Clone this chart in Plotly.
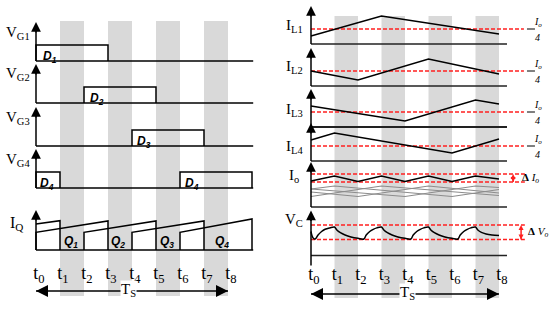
import plotly.graph_objects as go

W, H = 550, 310

# ---------------- data ----------------
t_ticks = [0, 1, 2, 3, 4, 5, 6, 7, 8]
t_labels = ["t<sub>0</sub>", "t<sub>1</sub>", "t<sub>2</sub>", "t<sub>3</sub>", "t<sub>4</sub>",
            "t<sub>5</sub>", "t<sub>6</sub>", "t<sub>7</sub>", "t<sub>8</sub>"]
shade_from = [1, 3, 5, 7]
shade_to = [2, 4, 6, 8]
period = [0, 8]
period_label = "T<sub>S</sub>"

# gate signals (left)
gate_labels = ["V<sub>G1</sub>", "V<sub>G2</sub>", "V<sub>G3</sub>", "V<sub>G4</sub>"]
gate_on = [[0], [2], [4], [0, 6]]
gate_off = [[3], [5], [7], [1, 9]]
gate_level = 16
duty_labels = ["D<sub>1</sub>", "D<sub>2</sub>", "D<sub>3</sub>", "D<sub>4</sub>"]
duty_label_t = [[0.6], [2.55], [4.5], [0.45, 6.5]]

# switch currents (left)
iq_label = "I<sub>Q</sub>"
q_on = [0, 2, 4, 6]
q_off = [3, 5, 7, 9]
q_low = [17.7, 17.7, 17.7, 17.7]
q_high = [29, 29, 29, 31]
q4_tail_t = [0, 1]
q4_tail_i = [26, 29.3]
q_labels = ["Q<sub>1</sub>", "Q<sub>2</sub>", "Q<sub>3</sub>", "Q<sub>4</sub>"]
q_label_t = [1.45, 3.4, 5.45, 7.75]

# inductor currents (right)
il_labels = ["I<sub>L1</sub>", "I<sub>L2</sub>", "I<sub>L3</sub>", "I<sub>L4</sub>"]
il_t = [[0, 3, 8], [0, 2, 5, 8], [0, 4, 7, 8], [0, 1, 6, 8]]
il_v = [[8, 28, 10], [15, 6, 27, 12], [21, 6, 27, 23], [21, 28, 8, 22]]
il_mean = 15

# output current
io_label = "I<sub>o</sub>"
io_t = [0, 1, 2, 3, 4, 5, 6, 7, 8]
io_v = [26, 31, 25.5, 31, 25.5, 31, 25.5, 31, 28]
io_band = [25, 33]
io_phase_v = [[10.5, 21, 11.5], [15, 10.5, 21, 14], [18, 10.5, 21, 19.5], [18, 21, 10.5, 17.5]]

# capacitor voltage
vc_label = "V<sub>C</sub>"
vc_t = [0.0, 0.04, 0.1, 0.18, 0.3, 0.45, 0.6, 0.8, 1.0,
        1.1, 1.25, 1.45, 1.7, 2.0, 2.25,
        2.35, 2.5, 2.65, 2.8, 3.0,
        3.1, 3.25, 3.45, 3.7, 4.0, 4.25,
        4.35, 4.5, 4.65, 4.8, 5.0,
        5.1, 5.25, 5.45, 5.7, 6.0, 6.25,
        6.35, 6.5, 6.65, 6.8, 7.0,
        7.1, 7.25, 7.45, 7.7, 8.0]
vc_v = [24, 20, 17.2, 16.5, 20.5, 24, 26.2, 27.6, 28.5,
        25.5, 22.8, 20.5, 18.6, 17.2, 16.5,
        20.5, 24, 26.2, 27.6, 28.5,
        25.5, 22.8, 20.5, 18.6, 17.2, 16.5,
        20.5, 24, 26.2, 27.6, 28.5,
        25.5, 22.8, 20.5, 18.6, 17.2, 16.5,
        20.5, 24, 26.2, 27.6, 28.5,
        25.5, 23.2, 21.6, 20.6, 20]
vc_band = [16, 30.5]

# ---------------- layout constants (pixels) ----------------
left_base = [61, 103, 146, 188, 250]
right_base = [44, 86, 127, 161, 207, 255.5]
L0, LD = 36, 24.0      # left: pixel of t0, pixels per t
R0, RD = 311, 23.5     # right
SERIF = "Liberation Serif"
SANS = "Liberation Sans"
BLACK = dict(color="black", width=1.5)
RED = dict(color="#ff2020", width=1.5, dash="4px,2px")
GREY = "#d9d9d9"


def yp(py):
    return 1 - py / H


fig = go.Figure()
annotations = []


def line(x, y, xa, ya, style=BLACK, **kw):
    fig.add_trace(go.Scatter(x=x, y=y, xaxis=xa, yaxis=ya, mode="lines", line=style,
                             hoverinfo="skip", showlegend=False, **kw))


def axis_arrow(xa, ya, top, bottom=0):
    line([0, 0], [bottom, top - 4], xa, ya)
    annotations.append(dict(x=0, y=top, xref=xa, yref=ya, ax=0, ay=top - 12, axref=xa, ayref=ya,
                            text="", showarrow=True, arrowhead=2, arrowsize=1.3, arrowwidth=1.5,
                            arrowcolor="black", standoff=0, startstandoff=0))


def label(text, px, py, size=15, family=SERIF, anchor="left"):
    annotations.append(dict(text=text, x=px / W, y=yp(py), xref="paper", yref="paper",
                            showarrow=False, xanchor=anchor, yanchor="middle",
                            font=dict(family=family, size=size, color="black")))


# ---------------- left panel ----------------
left_axes = ["y", "y2", "y3", "y4", "y5"]
label_py_left = [33, 74, 118, 160, 223]
for i in range(4):
    ya = left_axes[i]
    line([0, 9.05], [0, 0], "x", ya)
    for on, off in zip(gate_on[i], gate_off[i]):
        line([on, on, off, off], [0, gate_level, gate_level, 0], "x", ya)
    axis_arrow("x", ya, 39)
    label(gate_labels[i], 4, label_py_left[i])
    for tt in duty_label_t[i]:
        annotations.append(dict(text="<b><i>" + duty_labels[i] + "</i></b>", x=tt, y=4.5,
                                xref="x", yref=ya, showarrow=False,
                                font=dict(family=SANS, size=12, color="black")))

ya = left_axes[4]
line([0, 9.05], [0, 0], "x", ya)
for on, off, lo, hi in zip(q_on, q_off, q_low, q_high):
    line([on, on, off, off], [0, lo, hi, 0], "x", ya)
line(q4_tail_t + [q4_tail_t[-1]], q4_tail_i + [0], "x", ya)
axis_arrow("x", ya, 40)
label(iq_label, 8, label_py_left[4], size=16)
for tt, q in zip(q_label_t, q_labels):
    annotations.append(dict(text="<b><i>" + q + "</i></b>", x=tt, y=8, xref="x", yref=ya,
                            showarrow=False, font=dict(family=SANS, size=12, color="black")))

# period arrow left
ts_left = left_base[4] - 291
fig.add_trace(go.Scatter(x=period, y=[ts_left, ts_left], xaxis="x", yaxis=ya, mode="lines+markers",
                         line=BLACK,
                         marker=dict(symbol=["arrow-left", "arrow-right"], size=12, color="black"),
                         hoverinfo="skip", showlegend=False))
annotations.append(dict(text=period_label, x=3.85, y=ts_left, xref="x", yref=ya, showarrow=False,
                        bgcolor="white", borderpad=0, yshift=1,
                        font=dict(family=SERIF, size=15, color="black")))

# ---------------- right panel ----------------
right_axes = ["y6", "y7", "y8", "y9", "y10", "y11"]
label_py_right = [26, 67, 110, 147, 176, 220]
for i in range(4):
    ya = right_axes[i]
    line([0, 8.34], [0, 0], "x2", ya, style=dict(color="#222", width=2 if i == 2 else 1.5))
    line([0, 9.06], [il_mean, il_mean], "x2", ya, style=RED)
    line(il_t[i], il_v[i], "x2", ya)
    axis_arrow("x2", ya, 38)
    label(il_labels[i], 284, label_py_right[i])
    line([9.19, 9.53], [il_mean, il_mean], "x2", ya, style=dict(color="black", width=1))
    annotations.append(dict(text="<i>I<sub>o</sub></i>", x=9.65, y=il_mean, xref="x2", yref=ya,
                            yshift=7, showarrow=False, font=dict(family=SERIF, size=10, color="black")))
    annotations.append(dict(text="<i>4</i>", x=9.65, y=il_mean, xref="x2", yref=ya,
                            yshift=-8, showarrow=False, font=dict(family=SERIF, size=10, color="black")))

# output current
ya = right_axes[4]
line([0, 8.34], [0, 0], "x2", ya, style=dict(color="#222", width=1.5))
for k in range(4):
    line(il_t[k], io_phase_v[k], "x2", ya, style=dict(color="#8c8c8c", width=1.2))
for lvl in io_band:
    line([0, 9.1], [lvl, lvl], "x2", ya, style=RED)
line(io_t, io_v, "x2", ya)
axis_arrow("x2", ya, 45)
label(io_label, 287, label_py_right[4])
fig.add_trace(go.Scatter(x=[8.6, 8.6], y=io_band, xaxis="x2", yaxis=ya, mode="lines+markers",
                         line=dict(color="#ff2020", width=1.5),
                         marker=dict(symbol=["arrow-down", "arrow-up"], size=5, color="#ff2020"),
                         hoverinfo="skip", showlegend=False))
annotations.append(dict(text="<b>Δ</b> <i>I<sub>o</sub></i>", x=8.9, y=sum(io_band) / 2, xref="x2", yref=ya,
                        xanchor="left", showarrow=False, font=dict(family=SERIF, size=11, color="black")))

# capacitor voltage
ya = right_axes[5]
line([0, 8.34], [0, 0], "x2", ya, style=dict(color="#222", width=1.5))
for lvl in vc_band:
    line([0, 9.1], [lvl, lvl], "x2", ya, style=RED)
line(vc_t, vc_v, "x2", ya, line_shape="spline")
axis_arrow("x2", ya, 45, bottom=-10)
label(vc_label, 283, label_py_right[5])
fig.add_trace(go.Scatter(x=[8.94, 8.94], y=vc_band, xaxis="x2", yaxis=ya, mode="lines+markers",
                         line=dict(color="#ff2020", width=1.5),
                         marker=dict(symbol=["arrow-down", "arrow-up"], size=5, color="#ff2020"),
                         hoverinfo="skip", showlegend=False))
annotations.append(dict(text="<b>Δ</b> <i>V<sub>o</sub></i>", x=9.15, y=sum(vc_band) / 2, xref="x2", yref=ya,
                        xanchor="left", showarrow=False, font=dict(family=SERIF, size=11, color="black")))

# period arrow right
ts_right = right_base[5] - 294
fig.add_trace(go.Scatter(x=period, y=[ts_right, ts_right], xaxis="x2", yaxis=ya, mode="lines+markers",
                         line=BLACK,
                         marker=dict(symbol=["arrow-left", "arrow-right"], size=12, color="black"),
                         hoverinfo="skip", showlegend=False))
annotations.append(dict(text=period_label, x=4.1, y=ts_right, xref="x2", yref=ya, showarrow=False,
                        bgcolor="white", borderpad=0, yshift=1,
                        font=dict(family=SERIF, size=15, color="black")))

# ---------------- shaded intervals ----------------
shapes = []
for a, b in zip(shade_from, shade_to):
    shapes.append(dict(type="rect", xref="x", yref="paper", x0=a, x1=b, y0=yp(296), y1=yp(21),
                       fillcolor=GREY, line_width=0, layer="below"))
    shapes.append(dict(type="rect", xref="x2", yref="paper", x0=a, x1=b, y0=yp(298), y1=yp(16),
                       fillcolor=GREY, line_width=0, layer="below"))

# ---------------- axes ----------------
tick_common = dict(tickvals=t_ticks, ticktext=t_labels, showgrid=False, zeroline=False, showline=False,
                   ticks="", tickfont=dict(family=SERIF, size=18, color="black"),
                   anchor="free", fixedrange=True, ticklabelshift=3, automargin=False)
layout_axes = dict(
    xaxis=dict(domain=[0, 0.5], range=[(0 - L0) / LD, (275 - L0) / LD], position=yp(260), **tick_common),
    xaxis2=dict(domain=[0.5, 1], range=[(275 - R0) / RD, (550 - R0) / RD], position=yp(261), **tick_common),
)
for ax, base in zip(left_axes, left_base):
    key = "yaxis" if ax == "y" else "yaxis" + ax[1:]
    layout_axes[key] = dict(domain=[0, 1], range=[base - H, base], visible=False, anchor="x",
                            fixedrange=True, automargin=False)
for ax, base in zip(right_axes, right_base):
    layout_axes["yaxis" + ax[1:]] = dict(domain=[0, 1], range=[base - H, base], visible=False,
                                         anchor="x2", fixedrange=True, automargin=False)

fig.update_layout(
    width=W, height=H,
    margin=dict(l=0, r=0, t=0, b=0, pad=0, autoexpand=False),
    paper_bgcolor="white", plot_bgcolor="rgba(0,0,0,0)",
    showlegend=False,
    shapes=shapes,
    annotations=annotations,
    **layout_axes,
)

fig.write_html("out.html", config={"displayModeBar": False},
               post_script="document.body.style.margin='0';")
